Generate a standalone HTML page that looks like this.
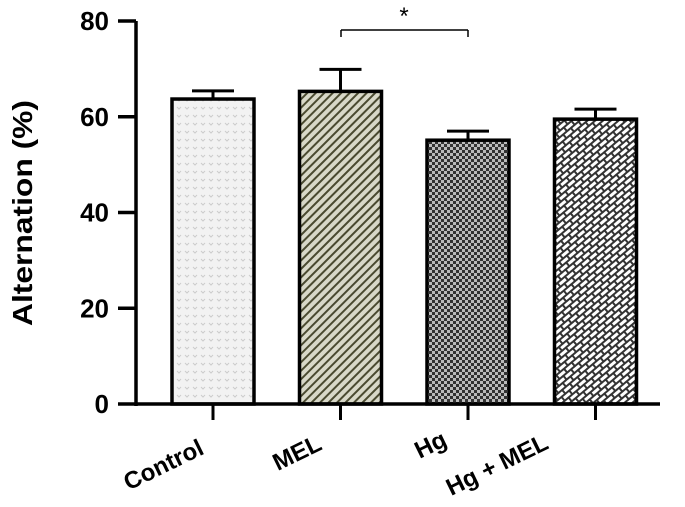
<!DOCTYPE html>
<html><head><meta charset="utf-8"><style>
body{margin:0;background:#fff}
svg text{font-family:"Liberation Sans",Arial,sans-serif;font-weight:bold;fill:#000}
</style></head><body>
<svg id="c" width="685" height="502" viewBox="0 0 685 502">
<defs>
<pattern id="p0" width="8" height="8" patternUnits="userSpaceOnUse"><rect width="8" height="8" fill="#f2f2f2"/><path d="M1 3l2 2 2-2" stroke="#ccc" fill="none" stroke-width="1"/></pattern>
<pattern id="p1" width="6" height="6" patternUnits="userSpaceOnUse" patternTransform="rotate(45)"><rect width="6" height="6" fill="#d8d8c8"/><rect width="2" height="6" fill="#4a4a30"/></pattern>
<pattern id="p2" width="6" height="6" patternUnits="userSpaceOnUse"><rect width="6" height="6" fill="#bbb"/><rect width="3" height="3" fill="#333"/><rect x="3" y="3" width="3" height="3" fill="#333"/></pattern>
<pattern id="p3" width="10" height="10" patternUnits="userSpaceOnUse" patternTransform="rotate(-40)"><rect width="10" height="10" fill="#333"/><rect x="1" y="1" width="8" height="3" fill="#fff"/><rect x="-4" y="6" width="8" height="3" fill="#fff"/><rect x="6" y="6" width="8" height="3" fill="#fff"/></pattern>
</defs>
<g id="bars"></g>
<g id="axes"></g>
<line x1="341" y1="30" x2="468" y2="30" stroke="#000" stroke-width="1.5"/>
<line x1="341" y1="30" x2="341" y2="37" stroke="#000" stroke-width="1.5"/>
<line x1="468" y1="30" x2="468" y2="37" stroke="#000" stroke-width="1.5"/>
<text x="404" y="24" font-size="24" text-anchor="middle" style="font-weight:normal">*</text>
<text transform="translate(32 213) rotate(-90)" font-size="28" text-anchor="middle" textLength="226" lengthAdjust="spacingAndGlyphs">Alternation (%)</text>
</svg>
<script>
const categories=["Control","MEL","Hg","Hg + MEL"];
const means=[63.7,65.3,55.1,59.5];
const errors=[1.7,4.6,1.9,2.1];
const yTicks=[0,20,40,60,80];
const fills=["url(#p0)","url(#p1)","url(#p2)","url(#p3)"];
const labelDx=[-46,-40,-34,-95];
const labelDy=[68,56,48,68];
const NS="http://www.w3.org/2000/svg";
const y0=404,y1=21,yMax=80;
function y(v){return y0-(y0-y1)*v/yMax;}
function xc(i){return 213+i*127.5;}
const bw=82;
const bars=document.getElementById('bars'),axes=document.getElementById('axes');
function mk(tag,attrs,parent){const e=document.createElementNS(NS,tag);for(const k in attrs)e.setAttribute(k,attrs[k]);parent.appendChild(e);return e;}
categories.forEach((c,i)=>{
  const x=xc(i);
  const el=mk('line',{x1:x,y1:y(means[i]),x2:x,y2:y(means[i]+errors[i]),stroke:'#000','stroke-width':3},bars);
  
  
  mk('line',{x1:x-21,y1:y(means[i]+errors[i]),x2:x+21,y2:y(means[i]+errors[i]),stroke:'#000','stroke-width':3},bars);
  const r=mk('rect',{x:x-bw/2,y:y(means[i]),width:bw,height:y0-y(means[i]),fill:fills[i],stroke:'#000','stroke-width':3.5},bars);
  
  
  mk('line',{x1:x,y1:y0,x2:x,y2:y0+16,stroke:'#000','stroke-width':3},axes);
  const t=mk('text',{transform:`translate(${x+labelDx[i]} ${y0+labelDy[i]}) rotate(-26)`,'font-size':24,'text-anchor':'middle'},axes);
  t.textContent=c;
  
  
});
mk('line',{x1:136,y1:y0,x2:660,y2:y0,stroke:'#000','stroke-width':3.5},axes);
mk('line',{x1:136,y1:y1,x2:136,y2:y0+2,stroke:'#000','stroke-width':3.5},axes);
yTicks.forEach(v=>{
  mk('line',{x1:118,y1:y(v),x2:136,y2:y(v),stroke:'#000','stroke-width':3.5},axes);
  const t=mk('text',{x:109,y:y(v)+9,'font-size':26,'text-anchor':'end'},axes);
  t.textContent=v;
  
  
});
</script>
</body></html>
